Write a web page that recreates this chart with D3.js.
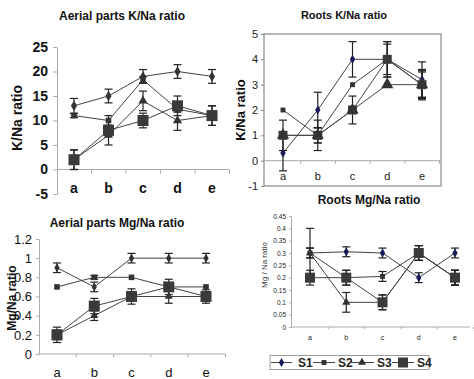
<!DOCTYPE html>
<html><head><meta charset="utf-8">
<script src="https://cdn.jsdelivr.net/npm/d3@7"></script>
<style>
html,body{margin:0;padding:0;background:#fff;}
svg{display:block;font-family:"Liberation Sans",Arial,sans-serif;}
</style></head>
<body><svg id="c" width="474" height="379"></svg>
<script>
const categories = ["a","b","c","d","e"];
const seriesNames = ["S1","S2","S3","S4"];

// Aerial parts K/Na ratio
const aerialKNa = [[13,15,19,20,19],[11,10,18.3,12.3,11],[2,7,14,10,11],[2,8,10,13,11]];
const aerialKNaErr = [[1.5,1.4,1.4,1.4,1.4],[0.4,1,0.6,0.6,0.5],[2,2,2,2,2],[2,1,1.5,2,2]];
const aerialKNaTicks = [-5,0,5,10,15,20,25];

// Roots K/Na ratio
const rootsKNa = [[0.3,2,4,4,3.2],[2,1,3,4,3],[1,1,2,3,3],[1,1,2,4,3]];
const rootsKNaErr = [[0.7,0.7,0.7,0.7,0.7],[0,0.3,0,0.7,0.6],[0.6,0.6,0.55,0,0.55],[0,0.3,0,0.6,0.5]];
const rootsKNaTicks = [-1,0,1,2,3,4,5];

// Aerial parts Mg/Na ratio
const aerialMgNa = [[0.9,0.7,1,1,1],[0.7,0.8,0.8,0.7,0.7],[0.2,0.4,0.6,0.6,0.6],[0.2,0.5,0.6,0.7,0.6]];
const aerialMgNaErr = [[0.05,0.05,0.05,0.05,0.05],[0,0.02,0,0,0],[0.05,0.05,0.05,0.07,0.05],[0.08,0.08,0.08,0.08,0.07]];
const aerialMgNaTicks = [0,0.2,0.4,0.6,0.8,1,1.2];

// Roots Mg/Na ratio
const rootsMgNa = [[0.3,0.305,0.3,0.2,0.3],[0.3,0.2,0.205,0.3,0.2],[0.3,0.1,0.1,0.3,0.2],[0.2,0.2,0.1,0.3,0.2]];
const rootsMgNaErr = [[0.02,0.02,0.02,0.02,0.02],[0.02,0.03,0.02,0.03,0.03],[0.1,0.04,0.03,0.03,0.03],[0.03,0.03,0.03,0.03,0.03]];
const rootsMgNaTicks = [0,0.05,0.1,0.15,0.2,0.25,0.3,0.35,0.4,0.45];

const svg = d3.select("#c");
const lineCol = "#444";
const axisCol = "#aaa";
const plain = d => String(+d.toFixed(2));

function marker(g, type, x, y, size, fill){
  if(type==="S1"){
    g.append("path").attr("d", d3.symbol(d3.symbolDiamond, size*size*0.5)())
      .attr("transform",`translate(${x},${y})`).attr("fill",fill);
  } else if(type==="S2"){
    g.append("rect").attr("x",x-size*0.35).attr("y",y-size*0.35).attr("width",size*0.7).attr("height",size*0.7).attr("fill","#333");
  } else if(type==="S3"){
    g.append("path").attr("d", d3.symbol(d3.symbolTriangle, size*size*0.45)())
      .attr("transform",`translate(${x},${y})`).attr("fill","#333");
  } else {
    g.append("rect").attr("x",x-size*0.5).attr("y",y-size*0.5).attr("width",size).attr("height",size).attr("fill","#3a3a3a");
  }
}

function drawSeries(g, x, y, vals, errs, opts){
  const line = d3.line().x((d,i)=>x(categories[i])).y(d=>y(d));
  vals.forEach((s,k)=>{
    g.append("path").datum(s).attr("d",line).attr("fill","none").attr("stroke",lineCol).attr("stroke-width",1);
  });
  vals.forEach((s,k)=>{
    s.forEach((v,i)=>{
      const e = errs[k][i];
      if(e>0){
        const cx = x(categories[i]);
        g.append("line").attr("x1",cx).attr("x2",cx).attr("y1",y(v-e)).attr("y2",y(v+e)).attr("stroke","#222").attr("stroke-width",1.2);
        [v-e,v+e].forEach(t=>g.append("line").attr("x1",cx-opts.cap).attr("x2",cx+opts.cap).attr("y1",y(t)).attr("y2",y(t)).attr("stroke","#222").attr("stroke-width",1.2));
      }
    });
  });
  const order = opts.order || [0,1,2,3];
  order.forEach(k=>{
    vals[k].forEach((v,i)=>{
      marker(g, seriesNames[k], x(categories[i]), y(v), opts.sizes[k], opts.s1fill);
    });
  });
}

function boundaryTicks(g, x0, step, yAx, len){
  for(let i=1;i<=5;i++){
    g.append("line").attr("x1",x0+step*i).attr("x2",x0+step*i).attr("y1",yAx).attr("y2",yAx+len).attr("stroke",axisCol);
  }
}

// ---------- Panel 1: Aerial parts K/Na ----------
{
  const g = svg.append("g");
  const x = d3.scalePoint().domain(categories).range([74,212]);
  const y = d3.scaleLinear().domain([-5,25]).range([194,47]);
  const ya = g.append("g").attr("transform","translate(57,0)")
    .call(d3.axisLeft(y).tickValues(aerialKNaTicks).tickSize(4).tickSizeOuter(0).tickPadding(5).tickFormat(plain));
  ya.select(".domain").attr("stroke",axisCol);
  ya.selectAll(".tick line").attr("stroke",axisCol);
  ya.selectAll("text").attr("font-size",14).attr("font-weight","bold").attr("fill","#111").attr("font-family","Liberation Sans, Arial");
  g.append("line").attr("x1",57).attr("x2",229).attr("y1",y(0)).attr("y2",y(0)).attr("stroke",axisCol);
  boundaryTicks(g,57,34.5,y(0),4);
  categories.forEach(c=>g.append("text").attr("x",x(c)).attr("y",193).attr("text-anchor","middle")
    .attr("font-size",14).attr("font-weight","bold").attr("fill","#111").text(c));
  g.append("text").attr("x",122).attr("y",20).attr("text-anchor","middle").attr("font-size",12).attr("font-weight","bold").attr("fill","#111").text("Aerial parts K/Na ratio");
  g.append("text").attr("transform","translate(22,118) rotate(-90)").attr("text-anchor","middle").attr("font-size",14).attr("font-weight","bold").attr("fill","#111").text("K/Na  ratio");
  drawSeries(g,x,y,aerialKNa,aerialKNaErr,{cap:4,sizes:[8,8,9,11],s1fill:"#333"});
}

// ---------- Panel 2: Roots K/Na ----------
{
  const g = svg.append("g");
  const x = d3.scalePoint().domain(categories).range([283,422]);
  const y = d3.scaleLinear().domain([-1,5]).range([186,34]);
  g.append("rect").attr("x",264).attr("y",34).attr("width",177).attr("height",152).attr("fill","#fff").attr("stroke","#888").attr("stroke-width",1.2);
  const ya = g.append("g").attr("transform","translate(264,0)")
    .call(d3.axisLeft(y).tickValues(rootsKNaTicks).tickSize(3).tickSizeOuter(0).tickPadding(3).tickFormat(plain));
  ya.select(".domain").remove();
  ya.selectAll(".tick line").attr("stroke","#888");
  ya.selectAll("text").attr("font-size",11).attr("fill","#222").attr("font-family","Liberation Sans, Arial");
  g.append("line").attr("x1",264).attr("x2",441).attr("y1",y(0)).attr("y2",y(0)).attr("stroke",axisCol);
  boundaryTicks(g,266,34.7,y(0),3);
  categories.forEach(c=>g.append("text").attr("x",x(c)).attr("y",180).attr("text-anchor","middle")
    .attr("font-size",11).attr("fill","#222").text(c));
  g.append("text").attr("x",344).attr("y",19).attr("text-anchor","middle").attr("font-size",11).attr("font-weight","bold").attr("fill","#111").text("Roots K/Na ratio");
  g.append("text").attr("transform","translate(245,110) rotate(-90)").attr("text-anchor","middle").attr("font-size",13).attr("font-weight","bold").attr("fill","#111").text("K/Na ratio");
  drawSeries(g,x,y,rootsKNa,rootsKNaErr,{cap:4,sizes:[7,7,12,9],s1fill:"#1b1b5a",order:[0,1,3,2]});
}

// ---------- Panel 3: Aerial parts Mg/Na ----------
{
  const g = svg.append("g");
  const x = d3.scalePoint().domain(categories).range([57,206]);
  const y = d3.scaleLinear().domain([0,1.2]).range([354,239]);
  const ya = g.append("g").attr("transform","translate(39,0)")
    .call(d3.axisLeft(y).tickValues(aerialMgNaTicks).tickSize(3).tickSizeOuter(0).tickPadding(4).tickFormat(plain));
  ya.select(".domain").attr("stroke",axisCol);
  ya.selectAll(".tick line").attr("stroke",axisCol);
  ya.selectAll("text").attr("font-size",13).attr("fill","#111").attr("font-family","Liberation Sans, Arial");
  g.append("line").attr("x1",39).attr("x2",226).attr("y1",354).attr("y2",354).attr("stroke",axisCol);
  boundaryTicks(g,39,37.3,354,3);
  categories.forEach(c=>g.append("text").attr("x",x(c)).attr("y",377).attr("text-anchor","middle")
    .attr("font-size",13).attr("fill","#111").text(c));
  g.append("text").attr("x",117).attr("y",227).attr("text-anchor","middle").attr("font-size",12).attr("font-weight","bold").attr("fill","#111").text("Aerial parts Mg/Na ratio");
  g.append("text").attr("transform","translate(16,298) rotate(-90)").attr("text-anchor","middle").attr("font-size",12).attr("font-weight","bold").attr("fill","#111").text("Mg/Na ratio");
  drawSeries(g,x,y,aerialMgNa,aerialMgNaErr,{cap:4,sizes:[7,8,8,11],s1fill:"#333"});
}

// ---------- Panel 4: Roots Mg/Na ----------
{
  const g = svg.append("g");
  const x = d3.scalePoint().domain(categories).range([310,455]);
  const y = d3.scaleLinear().domain([0,0.45]).range([327,216]);
  const ya = g.append("g").attr("transform","translate(291,0)")
    .call(d3.axisLeft(y).tickValues(rootsMgNaTicks).tickSize(2).tickSizeOuter(0).tickPadding(3).tickFormat(plain));
  ya.select(".domain").attr("stroke",axisCol);
  ya.selectAll(".tick line").attr("stroke",axisCol);
  ya.selectAll("text").attr("font-size",6.5).attr("fill","#222").attr("font-family","Liberation Sans, Arial");
  g.append("line").attr("x1",291).attr("x2",470).attr("y1",327).attr("y2",327).attr("stroke",axisCol);
  boundaryTicks(g,292,36.3,327,2);
  categories.forEach(c=>g.append("text").attr("x",x(c)).attr("y",340).attr("text-anchor","middle")
    .attr("font-size",7).attr("fill","#222").text(c));
  g.append("text").attr("x",369).attr("y",204).attr("text-anchor","middle").attr("font-size",12).attr("font-weight","bold").attr("fill","#111").text("Roots Mg/Na ratio");
  g.append("text").attr("transform","translate(267,265) rotate(-90)").attr("text-anchor","middle").attr("font-size",8).attr("fill","#333").text("Mg / Na ratio");
  drawSeries(g,x,y,rootsMgNa,rootsMgNaErr,{cap:4,sizes:[7,7,8,10],s1fill:"#1b1b5a"});
}

// ---------- Legend ----------
{
  const g = svg.append("g");
  g.append("rect").attr("x",270).attr("y",355.5).attr("width",159).attr("height",14).attr("fill","#fff").attr("stroke","#999");
  const items = [{x:271,w:21,t:298},{x:313,w:22,t:338},{x:350,w:24,t:377},{x:392,w:22,t:417}];
  const sizes = [7,7,8,10];
  items.forEach((it,k)=>{
    g.append("line").attr("x1",it.x).attr("x2",it.x+it.w).attr("y1",362.5).attr("y2",362.5).attr("stroke",lineCol);
    marker(g, seriesNames[k], it.x+it.w/2, 362.5, sizes[k], "#1b1b5a");
    g.append("text").attr("x",it.t).attr("y",367).attr("font-size",12).attr("font-weight","bold").attr("fill","#222").text(seriesNames[k]);
  });
}
</script></body></html>
